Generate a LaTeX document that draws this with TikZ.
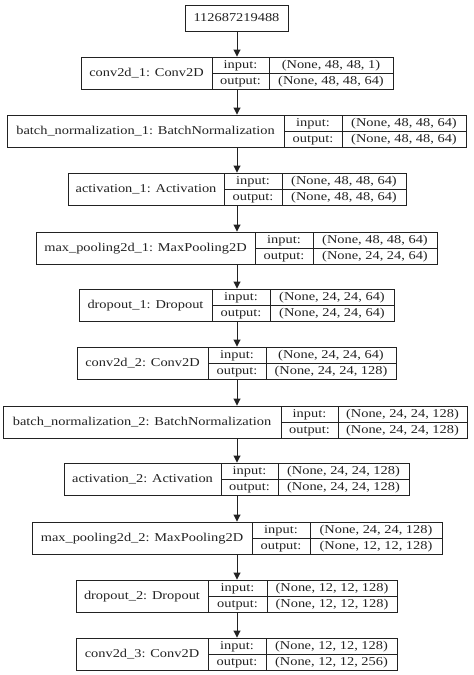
\documentclass[tikz,border=0pt]{standalone}
\usepackage{fontspec}
\setmainfont{Liberation Serif}
\usepackage{graphicx}
\usetikzlibrary{arrows.meta}
\definecolor{ink}{HTML}{222222}
\newcommand\wt[1]{\scalebox{1.2}[1]{#1}}
\tikzset{
  box/.style={draw=ink, line width=0.9pt, rectangle, inner sep=0pt},
  txt/.style={inner sep=0pt, text=ink, font=\fontsize{12}{12}\selectfont, text height=8pt, text depth=2.5pt},
  arr/.style={draw=ink, line width=0.9pt, -{Triangle[length=7pt,width=7pt]}}
}
% name, L, D1, D2, R, T, label, in, out
\newcommand\lay[9]{%
  \pgfmathsetmacro\bw{#5-#2}%
  \node[box, minimum width=\bw pt, minimum height=32pt] (#1) at ({(#2+#5)/2},{#6+16}) {};
  \draw[draw=ink, line width=0.9pt] (#3,#6) -- (#3,#6+32) (#4,#6) -- (#4,#6+32) (#3,#6+16) -- (#5,#6+16);
  \node[txt] (#1-l) at ({(#2+#3)/2},{#6+16.5}) {\wt{#7}};
  \node[txt] (#1-ik) at ({(#3+#4)/2},{#6+8.5}) {\wt{input:}};
  \node[txt] (#1-ok) at ({(#3+#4)/2},{#6+24.5}) {\wt{output:}};
  \node[txt] (#1-iv) at ({(#4+#5)/2},{#6+8.5}) {\wt{#8}};
  \node[txt] (#1-ov) at ({(#4+#5)/2},{#6+24.5}) {\wt{#9}};
}
\begin{document}
\begin{tikzpicture}[x=1pt,y=-1pt]
\useasboundingbox (0,0) rectangle (474,675);
\node[box, minimum width=103pt, minimum height=26pt] (b0) at (236.5,18) {};
\node[txt] (b0-l) at (236.5,18.5) {\wt{112687219488}};
\coordinate (ax) at (237,0);
\lay{b1}{81}{212}{269}{393}{57}{conv2d\_1: Conv2D}{(None, 48, 48, 1)}{(None, 48, 48, 64)}
\lay{b2}{7}{284}{342}{466}{115}{batch\_normalization\_1: BatchNormalization}{(None, 48, 48, 64)}{(None, 48, 48, 64)}
\lay{b3}{68}{224}{282}{406}{173}{activation\_1: Activation}{(None, 48, 48, 64)}{(None, 48, 48, 64)}
\lay{b4}{36}{255}{313}{437}{232}{max\_pooling2d\_1: MaxPooling2D}{(None, 48, 48, 64)}{(None, 24, 24, 64)}
\lay{b5}{79}{212}{270}{394}{289}{dropout\_1: Dropout}{(None, 24, 24, 64)}{(None, 24, 24, 64)}
\lay{b6}{77}{208}{266}{396}{347}{conv2d\_2: Conv2D}{(None, 24, 24, 64)}{(None, 24, 24, 128)}
\lay{b7}{3}{281}{338}{467}{406}{batch\_normalization\_2: BatchNormalization}{(None, 24, 24, 128)}{(None, 24, 24, 128)}
\lay{b8}{64}{221}{278}{409}{463}{activation\_2: Activation}{(None, 24, 24, 128)}{(None, 24, 24, 128)}
\lay{b9}{32}{252}{310}{442}{522}{max\_pooling2d\_2: MaxPooling2D}{(None, 24, 24, 128)}{(None, 12, 12, 128)}
\lay{b10}{76}{208}{267}{397}{580}{dropout\_2: Dropout}{(None, 12, 12, 128)}{(None, 12, 12, 128)}
\lay{b11}{76}{208}{266}{397}{638}{conv2d\_3: Conv2D}{(None, 12, 12, 128)}{(None, 12, 12, 256)}
\foreach \a/\b in {b0/b1,b1/b2,b2/b3,b3/b4,b4/b5,b5/b6,b6/b7,b7/b8,b8/b9,b9/b10,b10/b11}
  \draw[arr] (\a.south -| ax) -- (\b.north -| ax);
\end{tikzpicture}
\end{document}
